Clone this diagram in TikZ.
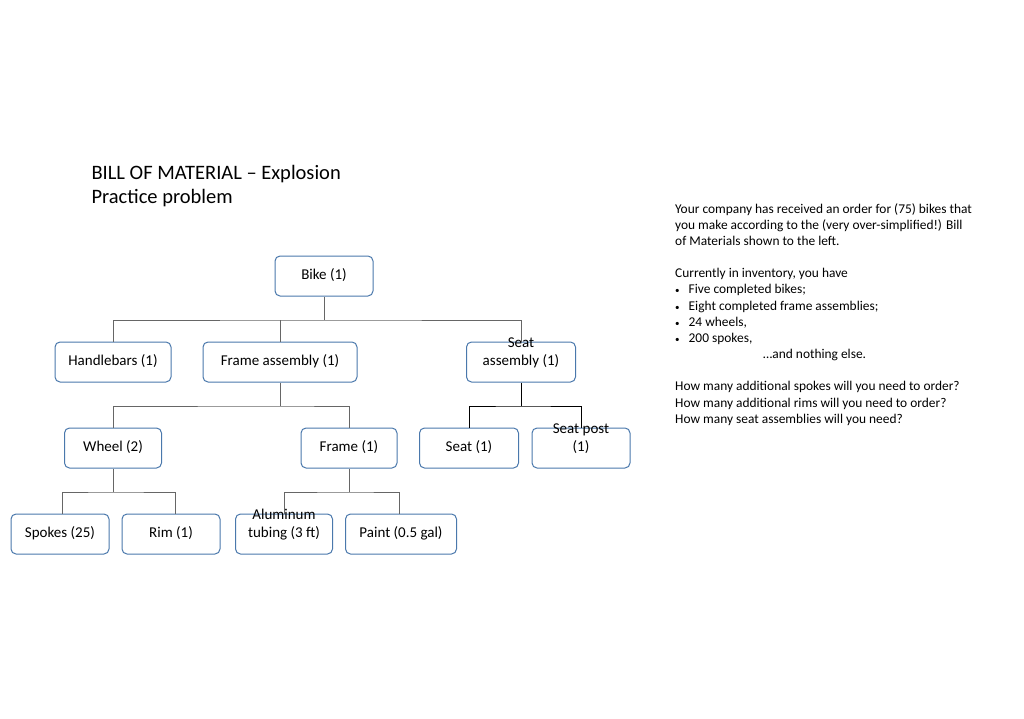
\documentclass[tikz,border=0pt]{standalone}
\usepackage{fontspec}
\setmainfont{Carlito}
\definecolor{bord}{HTML}{4A78AC}
\begin{document}
\begin{tikzpicture}[x=1pt,y=-1pt,
  box/.style={draw=bord, line width=1pt, rounded corners=5pt, fill=white, minimum height=40pt, align=center, font=\fontsize{15}{18.5}\selectfont, inner sep=2pt, text height=10.5pt, text depth=3pt},
  ln/.style={draw=black!60, line width=0.7pt}]
\useasboundingbox (0,0) rectangle (1024,719);
\node[anchor=west,font=\fontsize{20.5}{24.5}\selectfont,align=left] (title) at (88,186) {BILL OF MATERIAL -- Explosion\\Prac\kern0pt tice problem};
\node[box,minimum width=98pt] (bike) at (324,276) {Bike (1)};
\node[box,minimum width=116pt] (hb) at (113,362) {Handlebars (1)};
\node[box,minimum width=154pt] (fa) at (280,362) {Frame assembly (1)};
\node[box,minimum width=109pt] (sa) at (521,362) {Seat\\assembly (1)};
\node[box,minimum width=97pt] (wh) at (113,448) {Wheel (2)};
\node[box,minimum width=96pt] (fr) at (349,448) {Frame (1)};
\node[box,minimum width=99pt] (se) at (469,448) {Seat (1)};
\node[box,minimum width=98pt] (sp) at (581,448) {Seat post\\(1)};
\node[box,minimum width=98pt] (spk) at (60,534) {Spokes (25)};
\node[box,minimum width=98pt] (rim) at (171,534) {Rim (1)};
\node[box,minimum width=97pt] (al) at (284,534) {Aluminum\\tubing (3 ft)};
\node[box,minimum width=111pt] (pt) at (401,534) {Paint (0.5 gal)};
\coordinate (b1) at (324,320);
\draw[ln] (bike) -- (b1);
\draw[ln] (hb.north) |- (b1) -| (sa.north);
\draw[ln] (fa.north) -- (fa.north|-b1);
\coordinate (b2) at (280,406);
\draw[ln] (fa) -- (b2);
\draw[ln] (wh.north) |- (b2) -| (fr.north);
\coordinate (b3) at (521,406);
\draw[line width=0.8pt] (sa) -- (b3);
\draw[line width=0.8pt] (se.north) |- (b3) -| (sp.north);
\coordinate (b4) at (113,492);
\draw[ln] (wh) -- (b4);
\draw[ln] ([xshift=2pt]spk.north) |- (b4) -| ([xshift=4pt]rim.north);
\coordinate (b5) at (349,492);
\draw[ln] (fr) -- (b5);
\draw[ln] (al.north) |- (b5) -| ([xshift=-2pt]pt.north);
\node[anchor=north west,align=left,font=\fontsize{13.4}{16.2}\selectfont,inner sep=0pt] (txt) at (675,203) {Your company has received an order for (75) bikes that\\
you make according to the (very over-simplified!) Bill\\
of Materials shown to the left.\\[16pt]
Currently in inventory, you have\\
{\small•}\hspace{9pt}Five completed bikes;\\
{\small•}\hspace{9pt}Eight completed frame assemblies;\\
{\small•}\hspace{9pt}24 wheels,\\
{\small•}\hspace{9pt}200 spokes,\\
\hspace{88pt}…and nothing else.\\[16pt]
How many additional spokes will you need to order?\\
How many additional rims will you need to order?\\
How many seat assemblies will you need?};
\end{tikzpicture}
\end{document}
